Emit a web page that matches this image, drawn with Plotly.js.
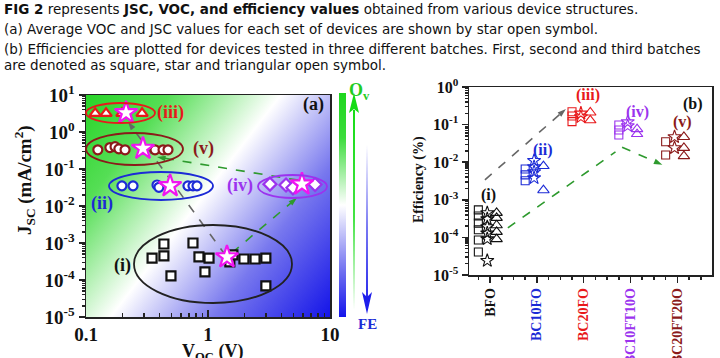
<!DOCTYPE html>
<html><head><meta charset="utf-8">
<script src="https://cdn.plot.ly/plotly-3.0.1.min.js"></script>
<style>html,body{margin:0;padding:0;background:#fff;}#chart{width:720px;height:358px;}</style>
</head><body><div id="chart"></div>
<script>
// ===== Panel (a): Voc (V) and Jsc (mA/cm^2) =====
const voc_i   = [0.348,0.435,0.435,0.497,0.753,0.843,1.02,0.944,1.51,1.60,1.97,2.43,2.98,2.98];
const jsc_i   = [3.9e-4,9.4e-4,4.5e-4,1.3e-4,1.0e-3,4.2e-4,3.9e-4,1.65e-4,3.1e-4,4.8e-4,3.7e-4,3.7e-4,3.9e-4,6.9e-5];
const voc_ii  = [0.197,0.243,0.382,0.396,0.685,0.753,0.812];
const jsc_ii  = [0.035,0.035,0.037,0.032,0.035,0.035,0.035];
const voc_iii = [0.119,0.146,0.197,0.288];
const jsc_iii = [3.2,3.2,3.2,3.2];
const voc_iv  = [3.22,4.36,4.97,7.54];
const jsc_iv  = [0.039,0.037,0.031,0.038];
const voc_v   = [0.125,0.157,0.173,0.186,0.209,0.368,0.428,0.470];
const jsc_v   = [0.33,0.38,0.40,0.35,0.33,0.33,0.33,0.33];
// averages (star symbols), order i..v
const voc_avg = [1.43,0.489,0.213,5.89,0.293];
const jsc_avg = [4.2e-4,0.035,3.3,0.039,0.36];
// trend arrows in panel (a)
const arrA_gray_x  = [1.40,0.221];   const arrA_gray_y  = [4.5e-4,1.9];
const arrA_green1_x = [1.57,5.37];   const arrA_green1_y = [5.4e-4,0.0166];
const arrA_green2_x = [5.47,0.382];  const arrA_green2_y = [0.050,0.211];

// ===== Panel (b): efficiency (%) per device, three batches =====
const devices = ['BFO','BC10FO','BC20FO','BC10FT10O','BC20FT20O'];
const devColors = ['#111111','#1c2bd6','#e8191b','#9b33ee','#8b1a1a'];
const eff_batch1 = [ // squares
  [5.4e-4,3.7e-4,2.4e-4,1.6e-4,8.5e-5,4.1e-5],
  [6.6e-3,4.6e-3,3.2e-3],
  [0.22,0.17,0.12],
  [0.098,0.072,0.053],
  [0.035,0.0155]];
const eff_batch2 = [ // stars
  [4.5e-4,3.1e-4,1.9e-4,1.3e-4,9.1e-5,2.4e-5],
  [1.1e-2,7.5e-3,5.5e-3,3.8e-3],
  [0.20,0.16],
  [0.117,0.092],
  [0.047,0.024]];
const eff_batch3 = [ // triangles
  [4.5e-4,3.3e-4,2.1e-4,1.4e-4,9.0e-5],
  [7.9e-3,1.8e-3],
  [0.21,0.13],
  [0.076,0.056],
  [0.047,0.024,0.0145]];
// trend arrows in panel (b) (x in device index units)
const arrB_gray_x  = [0.89,2.62];      const arrB_gray_y  = [3.4e-3,0.26];
const arrB_green_x = [1.38,3.82,4.68]; const arrB_green_y = [1.8e-4,0.025,8.5e-3];

// ===== helpers =====
const W=720,H=358;
const px=(x)=>x/W, py=(y)=>1-y/H;
const SERIF='Liberation Serif, Times New Roman, serif';
const SANS='DejaVu Sans, Verdana, sans-serif';

function bgImage(){
  const w=244,h=222,c=document.createElement('canvas');c.width=w;c.height=h;
  const ctx=c.getContext('2d');
  const g=ctx.createLinearGradient(0,0,261,200);
  g.addColorStop(0,'rgb(40,212,40)');
  g.addColorStop(0.2,'rgb(85,222,85)');
  g.addColorStop(0.47,'rgb(255,255,255)');
  g.addColorStop(0.72,'rgb(120,120,238)');
  g.addColorStop(1,'rgb(20,20,232)');
  ctx.fillStyle=g;ctx.fillRect(0,0,w,h);
  return c.toDataURL();
}
function barImage(){
  const w=44,h=240,c=document.createElement('canvas');c.width=w;c.height=h;
  const ctx=c.getContext('2d');
  const g=ctx.createLinearGradient(0,8,0,232);
  g.addColorStop(0,'rgb(30,215,30)');g.addColorStop(0.2,'rgb(60,220,60)');
  g.addColorStop(0.5,'rgb(255,255,255)');
  g.addColorStop(0.8,'rgb(110,110,240)');g.addColorStop(1,'rgb(20,20,235)');
  ctx.fillStyle=g;ctx.fillRect(5,8,7,224);
  const gg=ctx.createLinearGradient(0,20,0,225);
  gg.addColorStop(0,'rgba(20,220,20,1)');gg.addColorStop(0.55,'rgba(20,220,20,0.8)');gg.addColorStop(1,'rgba(20,220,20,0)');
  ctx.strokeStyle=gg;ctx.lineWidth=2;ctx.beginPath();ctx.moveTo(20,25);ctx.lineTo(20,225);ctx.stroke();
  ctx.fillStyle='rgb(20,220,20)';ctx.beginPath();ctx.moveTo(20,8);ctx.lineTo(15,28);ctx.lineTo(20,24);ctx.lineTo(25,28);ctx.closePath();ctx.fill();
  const gb=ctx.createLinearGradient(0,60,0,225);
  gb.addColorStop(0,'rgba(30,30,235,0)');gb.addColorStop(0.5,'rgba(30,30,235,0.6)');gb.addColorStop(1,'rgba(30,30,235,1)');
  ctx.strokeStyle=gb;ctx.beginPath();ctx.moveTo(33,60);ctx.lineTo(33,215);ctx.stroke();
  ctx.fillStyle='rgb(30,30,235)';ctx.beginPath();ctx.moveTo(33,229);ctx.lineTo(28,207);ctx.lineTo(33,212);ctx.lineTo(38,207);ctx.closePath();ctx.fill();
  return c.toDataURL();
}

const traces=[];
function groupA(x,y,symbol,color,size){
  traces.push({type:'scatter',mode:'markers',x:x,y:y,xaxis:'x',yaxis:'y',
    marker:{symbol:symbol,size:size,color:'#ffffff',line:{color:color,width:2.2}},showlegend:false,hoverinfo:'skip'});
}
function arrow(x,y,color,xa,ya){
  const n=x.length;
  traces.push({type:'scatter',mode:'lines+markers',x:x,y:y,xaxis:xa,yaxis:ya,
    line:{color:color,width:1.6,dash:'dash'},
    marker:{symbol:'arrow',angleref:'previous',size:9,color:color,
            opacity:x.map((_,i)=>i===n-1?1:0)},showlegend:false,hoverinfo:'skip'});
}
arrow(arrA_gray_x,arrA_gray_y,'#666666','x','y');
arrow(arrA_green1_x,arrA_green1_y,'#2e9a2e','x','y');
arrow(arrA_green2_x,arrA_green2_y,'#2e9a2e','x','y');
groupA(voc_i,jsc_i,'square','#111111',9);
groupA(voc_ii,jsc_ii,'circle','#1c2bd6',9);
groupA(voc_iii,jsc_iii,'triangle-up','#e8191b',10);
groupA(voc_iv,jsc_iv,'diamond','#9b33ee',10);
groupA(voc_v,jsc_v,'circle','#8b1a1a',9);
traces.push({type:'scatter',mode:'markers',x:voc_avg,y:jsc_avg,xaxis:'x',yaxis:'y',
  marker:{symbol:'star',size:17,color:'#ffffff',line:{color:'#f014f0',width:2.2}},showlegend:false,hoverinfo:'skip'});

arrow(arrB_gray_x,arrB_gray_y,'#666666','x2','y2');
arrow(arrB_green_x,arrB_green_y,'#2e9a2e','x2','y2');
const batches=[[eff_batch1,'square-open',-0.25,8],[eff_batch2,'star-open',-0.06,10],[eff_batch3,'triangle-up-open',0.14,10]];
batches.forEach(([data,sym,off,size])=>{
  data.forEach((vals,d)=>{
    traces.push({type:'scatter',mode:'markers',x:vals.map(()=>d+1+off),y:vals,xaxis:'x2',yaxis:'y2',
      marker:{symbol:sym,size:size,color:devColors[d],line:{width:1.1}},showlegend:false,hoverinfo:'skip'});
  });
});

function minorLog(lo,hi){const v=[];for(let e=lo;e<hi;e++)for(let k=2;k<=9;k++)v.push(k*Math.pow(10,e));return v;}
function decadeTicks(lo,hi){const v=[],t=[];for(let e=lo;e<=hi;e++){v.push(Math.pow(10,e));t.push('10<sup>'+(e<0?'-':'')+Math.abs(e)+'</sup>');}return [v,t];}
const [ya_v,ya_t]=decadeTicks(-5,1);
const [yb_v,yb_t]=decadeTicks(-5,0);

const axLine={showline:true,linecolor:'#222',linewidth:1.5,mirror:true,showgrid:false,zeroline:false,tickcolor:'#222',tickwidth:1.5};

const ann=[];
function txt(x,y,text,color,size,opts){ann.push(Object.assign({xref:'paper',yref:'paper',x:px(x),y:py(y),xanchor:'center',yanchor:'middle',text:text,showarrow:false,
  font:{family:SERIF,size:size,color:color,weight:'bold'}},opts||{}));}
function head(y,text){ann.push({xref:'paper',yref:'paper',x:px(2),y:py(y),xanchor:'left',yanchor:'middle',text:text,showarrow:false,font:{family:SANS,size:13.5,color:'#111'}});}
head(9,'<b>FIG 2</b> represents <b>JSC, VOC, and efficiency values</b> obtained from various device structures.');
head(29,'(a) Average VOC and JSC values for each set of devices are shown by star open symbol.');
head(49,'(b) Efficiencies are plotted for devices tested in three different batches. First, second and third batches');
head(65,'are denoted as square, star and triangular open symbol.');
txt(313,105,'(a)','#111',18);
txt(170,113,'(iii)','#e8191b',18);
txt(203,148,'(v)','#8b1a1a',18);
txt(102,204,'(ii)','#1c2bd6',18);
txt(240,186,'(iv)','#9b33ee',18);
txt(122,265,'(i)','#111',18);
txt(347,91,'O<sub>v</sub>','#22cc22',18,{xanchor:'left'});
txt(367,324,'FE','#1c2bd6',15);
txt(24,180,'J<sub>SC</sub> (mA/cm<sup>2</sup>)','#111',19,{textangle:-90});
txt(212,352,'V<sub>OC</sub> (V)','#111',18);
txt(693,104,'(b)','#111',16);
txt(488,195,'(i)','#111',16);
txt(543,150,'(ii)','#1c2bd6',16);
txt(588,95,'(iii)','#e8191b',16);
txt(637,112,'(iv)','#9b33ee',16);
txt(682,122,'(v)','#8b1a1a',16);
txt(419,180,'Efficiency (%)','#111',14,{textangle:-90});

const ell=[[86,103,155,123,'#e8191b'],[86,133,183,165,'#8b1a1a'],[109,172,213,200,'#1c2bd6'],[258,175,327,198,'#9b33ee'],[134,225,292,303,'#222']];
const shapes=ell.map(([x0,y0,x1,y1,c])=>({type:'circle',xref:'paper',yref:'paper',x0:px(x0),x1:px(x1),y0:py(y1),y1:py(y0),line:{color:c,width:1.8}}));

const layout={width:W,height:H,margin:{l:0,r:0,t:0,b:0},paper_bgcolor:'#fff',plot_bgcolor:'rgba(0,0,0,0)',showlegend:false,
  xaxis:Object.assign({},axLine,{domain:[px(86),px(330)],anchor:'y',type:'log',range:[-1,1],
    tickvals:[0.1,1,10],ticktext:['0.1','1','10'],ticks:'inside',ticklen:7,
    minor:{tickvals:minorLog(-1,1),ticks:'inside',ticklen:4,tickcolor:'#222'},
    tickfont:{family:SERIF,size:19,color:'#111',weight:'bold'}}),
  yaxis:Object.assign({},axLine,{domain:[py(317),py(95)],anchor:'x',type:'log',range:[-5,1],
    tickvals:ya_v,ticktext:ya_t,ticks:'outside',ticklen:6,
    minor:{tickvals:minorLog(-5,1),ticks:'outside',ticklen:3,tickcolor:'#222'},
    tickfont:{family:SERIF,size:19,color:'#111',weight:'bold'}}),
  xaxis2:Object.assign({},axLine,{domain:[px(469),px(712)],anchor:'y2',range:[0.55,5.74],
    tickvals:[1,2,3,4,5],ticktext:devices.map((d,i)=>'<span style="color:'+devColors[i]+'">'+d+'</span>'),
    tickangle:-90,ticks:'outside',ticklen:6,
    minor:{dtick:0.25,tick0:0,ticks:'outside',ticklen:3,tickcolor:'#222'},
    tickfont:{family:SERIF,size:14,color:'#111',weight:'bold'}}),
  yaxis2:Object.assign({},axLine,{domain:[py(275),py(87)],anchor:'x2',type:'log',range:[-5,0],
    tickvals:yb_v,ticktext:yb_t,ticks:'outside',ticklen:6,
    minor:{tickvals:minorLog(-5,0),ticks:'outside',ticklen:3,tickcolor:'#222'},
    tickfont:{family:SERIF,size:16,color:'#111',weight:'bold'}}),
  annotations:ann,shapes:shapes,
  images:[
    {source:bgImage(),xref:'paper',yref:'paper',x:px(86),y:py(95),sizex:244/W,sizey:222/H,sizing:'stretch',xanchor:'left',yanchor:'top',layer:'below'},
    {source:barImage(),xref:'paper',yref:'paper',x:px(334),y:py(85),sizex:44/W,sizey:240/H,sizing:'stretch',xanchor:'left',yanchor:'top',layer:'above'}
  ]};
Plotly.newPlot('chart',traces,layout,{displayModeBar:false,staticPlot:true});
</script></body></html>
